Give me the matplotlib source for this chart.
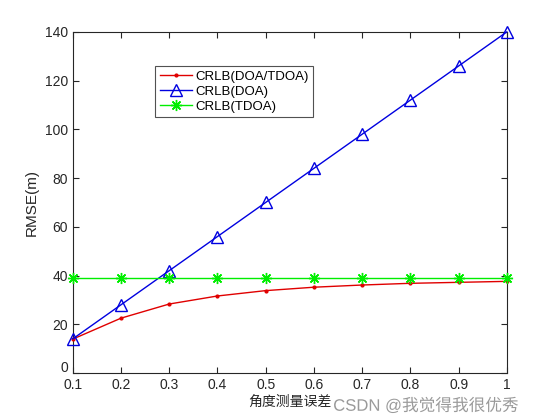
import matplotlib
matplotlib.use("Agg")
import matplotlib.pyplot as plt
import matplotlib.patheffects as pe
import matplotlib.transforms as mtransforms

x = [0.1, 0.2, 0.3, 0.4, 0.5, 0.6, 0.7, 0.8, 0.9, 1.0]
crlb_joint = [13.9, 22.5, 28.3, 31.6, 33.8, 35.2, 36.1, 36.8, 37.2, 37.6]
crlb_doa = [14, 28, 42, 56, 70, 84, 98, 112, 126, 140]
crlb_tdoa = [38.9] * 10
xticks = [0.1, 0.2, 0.3, 0.4, 0.5, 0.6, 0.7, 0.8, 0.9, 1]
xtick_labels = ["0.1", "0.2", "0.3", "0.4", "0.5", "0.6", "0.7", "0.8", "0.9", "1"]
yticks = [0, 20, 40, 60, 80, 100, 120, 140]

plt.rcParams['font.family'] = ['Liberation Sans', 'Noto Sans CJK SC', 'DejaVu Sans']

fig = plt.figure(figsize=(5.6, 4.2), dpi=100)
ax = fig.add_axes([0.13, 0.112, 0.775, 0.812])

ax.plot(x, crlb_joint, color='#e00000', marker='.', markersize=4, linewidth=1,
        label='CRLB(DOA/TDOA)', clip_on=False, zorder=3)
ax.plot(x, crlb_doa, color='#0000e0', marker='^', markersize=8, markerfacecolor='none',
        linewidth=1, label='CRLB(DOA)', clip_on=False, zorder=3)
ax.plot(x, crlb_tdoa, color='#00ee00', marker=(8, 2, 0), markersize=8, markeredgewidth=1,
        linewidth=1, label='CRLB(TDOA)', clip_on=False, zorder=3)

ax.set_xlim(0.1, 1)
ax.set_ylim(0, 140)
ax.set_xticks(xticks)
ax.set_xticklabels(xtick_labels)
ax.set_yticks(yticks)
ax.tick_params(direction='in', length=4, labelsize=10, top=True, right=True, colors='#262626')
for s in ax.spines.values():
    s.set_linewidth(0.8)
    s.set_color('#262626')

# raise the "0" y tick label slightly, as in the reference
lbl0 = ax.get_yticklabels()[0]
lbl0.set_transform(lbl0.get_transform() + mtransforms.ScaledTranslation(0, 6 / 100, fig.dpi_scale_trans))

ax.set_ylabel('RMSE(m)', fontsize=11, color='#262626')
ax.set_xlabel('角度测量误差', fontsize=10, color='#262626',
              family=['Noto Sans CJK SC', 'DejaVu Sans'], labelpad=2)

leg = ax.legend(loc='upper left', bbox_to_anchor=(0.190, 0.9), fontsize=9.5,
                frameon=True, fancybox=False, edgecolor='#262626',
                handlelength=2.4, handletextpad=0.3, borderpad=0.35, labelspacing=0.2,
                borderaxespad=0, numpoints=1)
leg.get_frame().set_linewidth(0.8)

fig.text(0.595, 0.022, 'CSDN @我觉得我很优秀', fontsize=12, color='#9a9a9a',
         family=['Liberation Sans', 'Noto Sans CJK SC'],
         path_effects=[pe.withStroke(linewidth=2, foreground='white')])

fig.savefig('out.png', dpi=100)
